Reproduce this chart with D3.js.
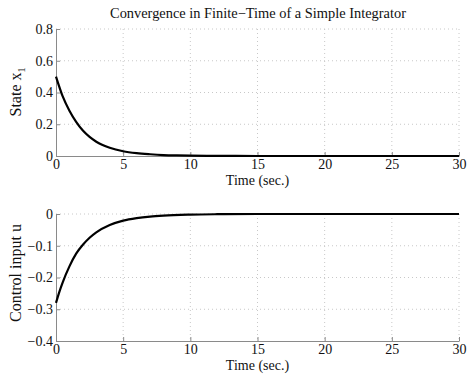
<!DOCTYPE html>
<html>
<head>
<meta charset="utf-8">
<script src="https://cdn.jsdelivr.net/npm/d3@7"></script>
<style>
  body { margin: 0; background: #fff; }
  text { font-family: "Liberation Serif", "Times New Roman", serif; fill: #111; }
</style>
</head>
<body>
<div id="chart"></div>
<script>
var width = 474;
var height = 380;

// values
var timeX = [0, 0.5, 1, 1.5, 2, 2.5, 3, 4, 5, 6, 7, 8, 9, 10, 12, 15, 30];
var stateX1 = [0.5, 0.375, 0.285, 0.215, 0.16, 0.12, 0.09, 0.052, 0.03, 0.018, 0.011, 0.006, 0.0035, 0.002, 0.0006, 0, 0];

var timeU = [0, 0.25, 0.5, 1, 1.5, 2, 2.5, 3, 4, 5, 6, 7, 8, 10, 12, 15, 30];
var controlU = [-0.28, -0.245, -0.215, -0.165, -0.125, -0.097, -0.075, -0.058, -0.035, -0.021, -0.013, -0.008, -0.005, -0.002, -0.0007, 0, 0];

var xTicks = [0, 5, 10, 15, 20, 25, 30];
var yTicksTop = [0, 0.2, 0.4, 0.6, 0.8];
var yTicksBottom = [-0.4, -0.3, -0.2, -0.1, 0];

var title = "Convergence in Finite\u2212Time of a Simple Integrator";

var svg = d3.select("#chart")
  .append("svg")
  .attr("width", width)
  .attr("height", height);

var left = 56, right = 459;

function drawPanel(opts) {
  var xScale = d3.scaleLinear().domain([0, 30]).range([left, right]);
  var yScale = d3.scaleLinear().domain(opts.domain).range([opts.bottom, opts.top]);

  var g = svg.append("g");

  // dotted grid
  g.selectAll(".vgrid").data(xTicks.slice(1))
    .enter().append("line")
    .attr("x1", d => xScale(d)).attr("x2", d => xScale(d))
    .attr("y1", opts.top).attr("y2", opts.bottom)
    .attr("stroke", "#c8c8c8").attr("stroke-width", 1)
    .attr("stroke-dasharray", "1,3");

  g.selectAll(".hgrid").data(opts.yTicks.filter(d => d != opts.domain[0]))
    .enter().append("line")
    .attr("x1", left).attr("x2", right)
    .attr("y1", d => yScale(d)).attr("y2", d => yScale(d))
    .attr("stroke", "#c8c8c8").attr("stroke-width", 1)
    .attr("stroke-dasharray", "1,3");

  var xAxis = d3.axisBottom(xScale).tickValues(xTicks).tickSize(-4).tickPadding(3).tickSizeOuter(0);
  var yAxis = d3.axisLeft(yScale).tickValues(opts.yTicks).tickSize(-4).tickPadding(3).tickSizeOuter(0)
    .tickFormat(d => d == 0 ? "0" : d3.format(".1f")(d).replace("-", "\u2212"));

  var gx = g.append("g")
    .attr("transform", "translate(0," + opts.bottom + ")")
    .call(xAxis);
  var gy = g.append("g")
    .attr("transform", "translate(" + left + ",0)")
    .call(yAxis);

  [gx, gy].forEach(function(a) {
    a.selectAll("path, line").attr("stroke", "#8a8a8a");
    a.selectAll("text")
      .style("font-family", "'Liberation Serif', serif")
      .style("font-size", "14px")
      .attr("fill", "#111");
  });

  var line = d3.line()
    .x(d => xScale(d[0]))
    .y(d => yScale(d[1]))
    .curve(d3.curveMonotoneX);

  g.append("path")
    .datum(d3.zip(opts.times, opts.values))
    .attr("fill", "none")
    .attr("stroke", "#000")
    .attr("stroke-width", 2.2)
    .attr("d", line);

  g.append("text")
    .attr("x", (left + right) / 2)
    .attr("y", opts.bottom + 29)
    .attr("text-anchor", "middle")
    .style("font-size", "14px")
    .text("Time (sec.)");

  return g;
}

drawPanel({
  domain: [0, 0.8], top: 29, bottom: 156,
  yTicks: yTicksTop, times: timeX, values: stateX1
});

drawPanel({
  domain: [-0.4, 0], top: 214, bottom: 341,
  yTicks: yTicksBottom, times: timeU, values: controlU
});

svg.append("text")
  .attr("x", 258)
  .attr("y", 18)
  .attr("text-anchor", "middle")
  .style("font-size", "14.4px")
  .text(title);

var yl1 = svg.append("text")
  .attr("transform", "translate(21,92) rotate(-90)")
  .attr("text-anchor", "middle")
  .style("font-size", "16px");
yl1.append("tspan").text("State x");
yl1.append("tspan").attr("dy", 4).style("font-size", "10px").text("1");

svg.append("text")
  .attr("transform", "translate(21,273) rotate(-90)")
  .attr("text-anchor", "middle")
  .style("font-size", "16px")
  .text("Control input u");
</script>
</body>
</html>
